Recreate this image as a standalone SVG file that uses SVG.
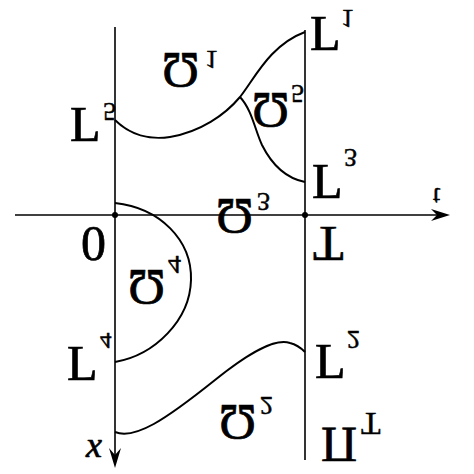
<svg xmlns="http://www.w3.org/2000/svg" width="474" height="474" viewBox="0 0 474 474">
<style>
.ln{stroke:#000;stroke-width:1.6;fill:none}
.cv{stroke:#000;stroke-width:2;fill:none}
.t{font-size:50px;fill:#000;stroke:#000;stroke-width:0.7}
.s{font-size:26px;fill:#000;stroke:#000;stroke-width:0.5}
</style>
<rect width="474" height="474" fill="#fff"/>
<g id="connectors">
<line class="ln" x1="15" y1="215" x2="445" y2="215"/>
<path d="M450,215 L431,209 L437,215 L431,221 Z" fill="#000"/>
<line class="ln" x1="115" y1="27" x2="115" y2="462"/>
<path d="M115,468 L109,448 L115,455 L121,448 Z" fill="#000"/>
<line class="ln" x1="305" y1="30" x2="305" y2="460"/>
<circle cx="115" cy="215" r="3" fill="#000"/>
<circle cx="305" cy="215" r="3" fill="#000"/>
<path class="cv" d="M115,120 C130,135 150,140 170,137 C200,132 225,115 240,97 C255,78 270,45 305,32"/>
<path class="cv" d="M240,97 C252,110 255,130 262,145 C272,165 285,178 305,182"/>
<path class="cv" d="M115,203 C160,208 192,240 191,280 C190,320 155,355 115,362"/>
<path class="cv" d="M115,432 C135,440 165,420 215,380 C250,352 275,338 290,343 C298,345 303,350 305,352"/>
</g>
<g font-family="Liberation Serif, DejaVu Serif, serif">
<g id="L1"><text class="t" x="310" y="50">L</text><text class="s" transform="translate(341,10) scale(1,-1)">1</text></g>
<g id="L5"><text class="t" x="70" y="141">L</text><text class="s" transform="translate(103,103) scale(1,-1)">5</text></g>
<g id="L3"><text class="t" x="312" y="198">L</text><text class="s" transform="translate(344,149) scale(1,-1)">3</text></g>
<g id="L4"><text class="t" x="67" y="380">L</text><text class="s" style="font-size:23px" transform="translate(100,333) scale(1,-1)">4</text></g>
<g id="L2"><text class="t" x="315" y="378">L</text><text class="s" transform="translate(347,331) scale(1,-1)">2</text></g>
<g id="O1"><text class="t" transform="translate(162,54) scale(1,-1)">Ω</text><text class="s" transform="translate(205,51) scale(1,-1)">1</text></g>
<g id="O5"><text class="t" transform="translate(252,94) scale(1,-1)">Ω</text><text class="s" transform="translate(291,85) scale(1,-1)">5</text></g>
<g id="O3"><text class="t" transform="translate(216,200) scale(1,-1)">Ω</text><text class="s" transform="translate(257,193) scale(1,-1)">3</text></g>
<g id="O4"><text class="t" transform="translate(128,271) scale(1,-1)">Ω</text><text class="s" transform="translate(168,256) scale(1,-1)">4</text></g>
<g id="O2"><text class="t" transform="translate(219,406) scale(1,-1)">Ω</text><text class="s" transform="translate(260,397) scale(1,-1)">2</text></g>
<g id="origin"><text class="t" x="81" y="260">0</text></g>
<g id="T"><text class="t" transform="translate(313,227) scale(1,-1)">T</text></g>
<g id="taxis"><text class="t" style="font-size:26px;stroke-width:0.5" transform="translate(433,188) scale(1,-1)">t</text></g>
<g id="Pi"><text class="t" transform="translate(321,428) scale(1,-1)">Π</text><text class="t" style="font-size:32px;stroke-width:0.5" transform="translate(361,413) scale(1,-1)">T</text></g>
<g id="xaxis"><text class="t" style="font-size:36px;font-style:italic" x="86" y="457">x</text></g>
</g>
</svg>
